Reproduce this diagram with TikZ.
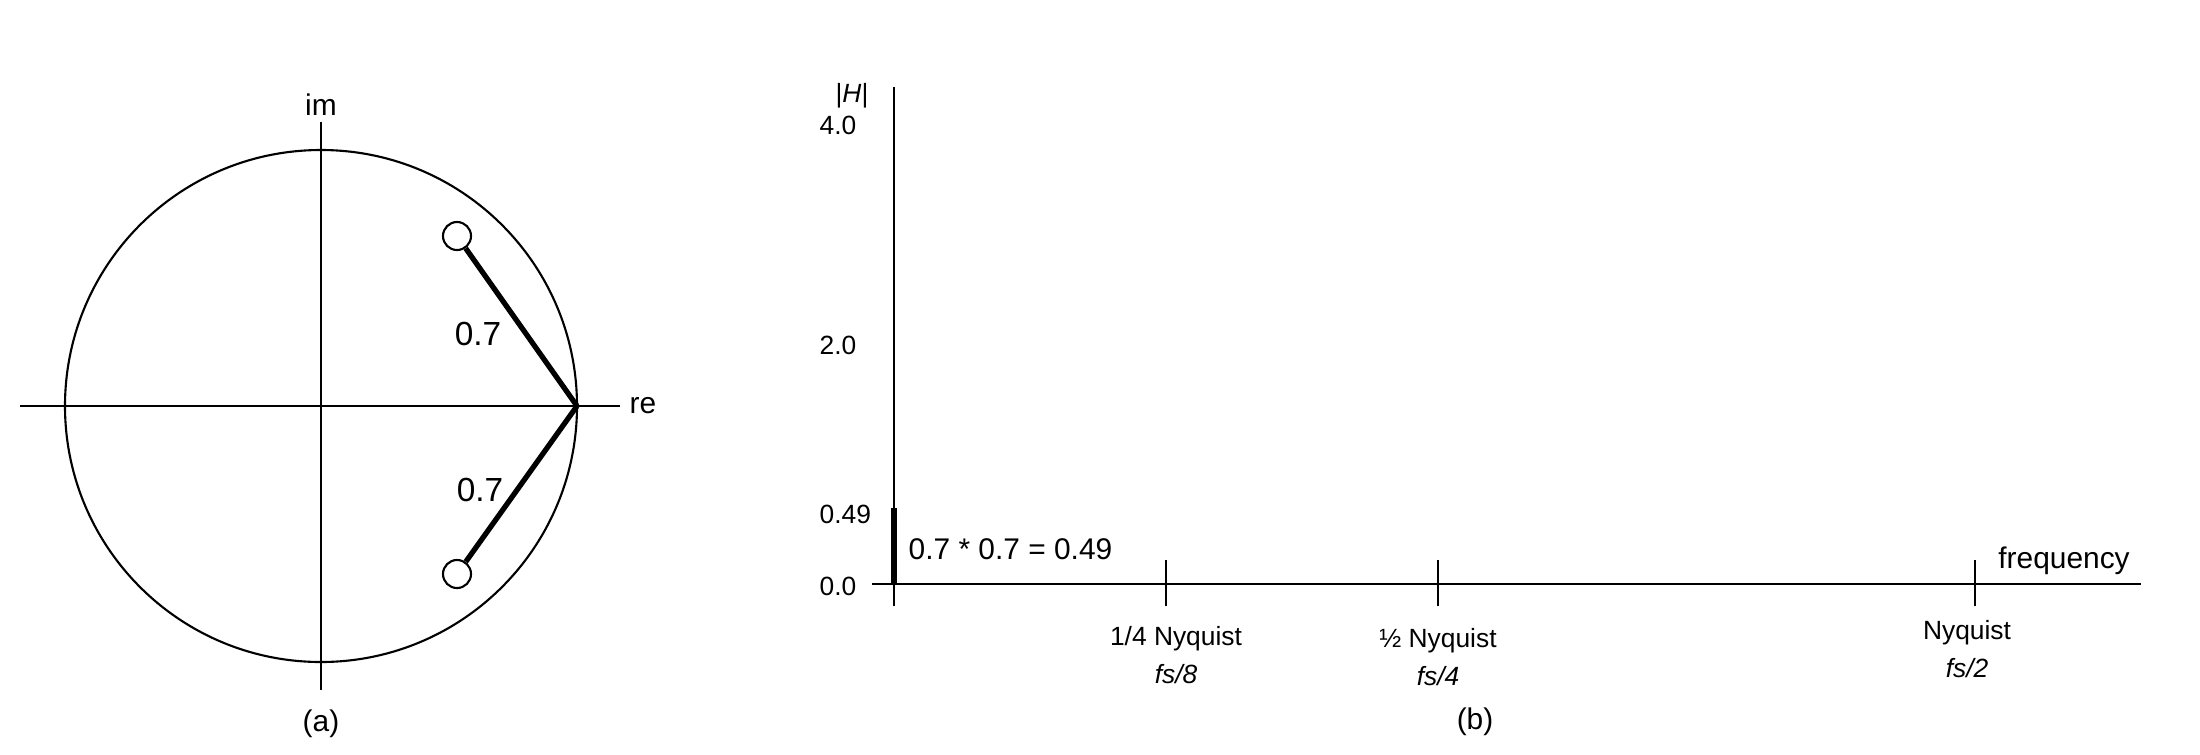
\documentclass[tikz,border=0pt]{standalone}
\usepackage{fontspec}
\setmainfont{Liberation Sans}
\usetikzlibrary{positioning}
\tikzset{axis/.style={line width=.6pt},stem/.style={line width=1.5pt},bar/.style={line width=1.8pt},zero/.style={circle,draw,line width=.6pt,fill=white,minimum size=2.8mm,inner sep=0pt},big/.style={inner sep=0pt,font=\fontsize{9.5}{11}\selectfont},lbl/.style={inner sep=0pt,font=\fontsize{8.5}{10}\selectfont},tick/.style={inner sep=0pt,font=\fontsize{7.5}{9}\selectfont,align=center}}

\begin{document}
\begin{tikzpicture}[x=0.01cm,y=-0.01cm]
\useasboundingbox (0,0) rectangle (2200,754);
% (a) zeros on the unit circle
\draw[axis] (321,406) circle[radius=256];
\draw[axis] (20,406)--(620,406);
\draw[axis] (321,122)--(321,690);
\node[lbl] (im) at (321,105) {im};
\node[lbl] (re) at (643,406) {re};
\node[lbl] (capa) at (321,724) {(a)};
\coordinate (one) at (577,406);
\node[zero] (zup) at (457,236) {};
\node[zero] (zdn) at (457,574) {};
\draw[stem] (zup)--(one);
\draw[stem] (zdn)--(one);
\node[big] (dup) at (478,334) {0.7};
\node[big] (ddn) at (480,490) {0.7};
% (b) magnitude response
\draw[axis] (894,87)--(894,606);
\draw[axis] (872,584)--(2141,584);
\foreach \x in {1166,1438,1975} \draw[axis] (\x,560)--(\x,606);
\coordinate (orig) at (894,584);
\coordinate (peak) at (894,508);
\draw[bar] (orig)--(peak);
\node[tick] (mag) at (852,96) {|\textit{H}|};
\node[tick,anchor=west] (yfour) at (819,125) {4.0};
\node[tick,anchor=west] (ytwo) at (819,345) {2.0};
\node[tick,anchor=west] (ypeak) at (819,514) {0.49};
\node[tick,anchor=west] (yzero) at (819,586) {0.0};
\node[lbl,anchor=west] (prod) at (908,549) {0.7 * 0.7 = 0.49};
\node[lbl] (freq) at (2064,561) {frequency};
\node[tick] (quart) at (1176,655) {1/4 Nyquist\\[2pt]\textit{fs/8}};
\node[tick] (half) at (1438,657) {½ Nyquist\\[2pt]\textit{fs/4}};
\node[tick] (nyq) at (1967,649) {Nyquist\\[2pt]\textit{fs/2}};
\node[lbl] (capb) at (1475,722) {(b)};
\end{tikzpicture}
\end{document}
